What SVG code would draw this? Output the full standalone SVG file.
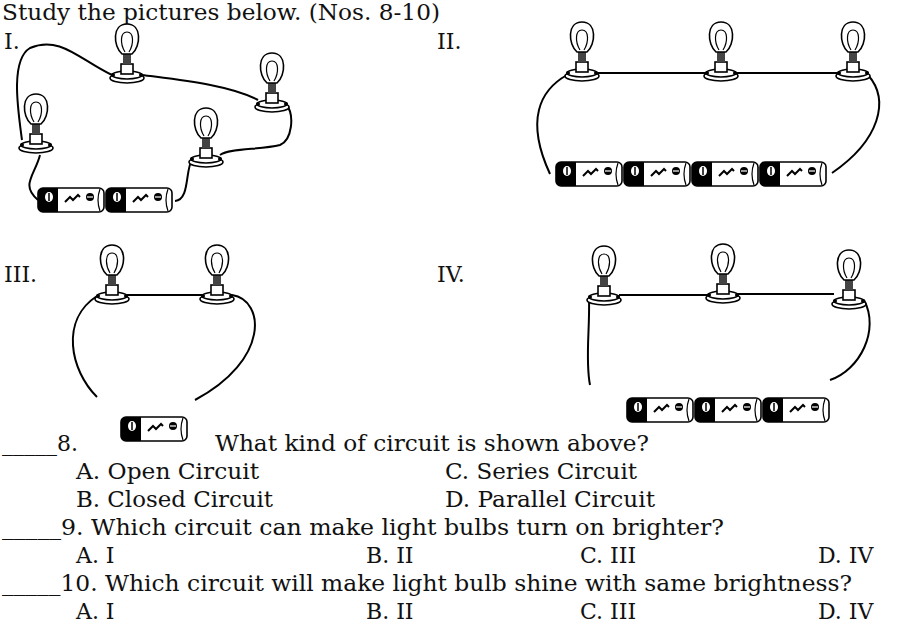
<svg xmlns="http://www.w3.org/2000/svg" width="909" height="626" viewBox="0 0 909 626">
<style>
text{font-family:"DejaVu Serif","Liberation Serif",serif;font-size:22px;fill:#111}
.w{fill:none;stroke:#000;stroke-width:2}
.o{stroke:#000;stroke-width:1.6}
</style>
<defs>
<g id="bulb">
<ellipse cx="0" cy="2" rx="17" ry="5" fill="#fff" class="o"/>
<ellipse cx="0" cy="-1" rx="15" ry="4" fill="#fff" class="o"/>
<rect x="-6" y="-12" width="12" height="10" fill="#fff" class="o"/>
<rect x="-4" y="-22" width="8" height="10" fill="#444"/>
<path d="M-5,-22 C-14,-30 -15,-52 0,-52 C15,-52 14,-30 5,-22 Z" fill="#fff" class="o"/>
<path d="M-2,-24 C-7,-32 -7,-44 0,-44 C7,-44 7,-32 2,-24" fill="none" stroke="#000" stroke-width="1.2"/>
<circle cx="-14" cy="-1" r="2" fill="#000"/><circle cx="14" cy="-1" r="2" fill="#000"/>
</g>
<g id="bat">
<rect x="0" y="-12" width="66" height="24" rx="5" fill="#fff" class="o"/>
<path d="M5,-12 H20 V12 H5 A5,5 0 0 1 0,7 V-7 A5,5 0 0 1 5,-12Z" fill="#000"/>
<ellipse cx="11" cy="-3" rx="4" ry="5" fill="#fff"/><line x1="11" y1="-7" x2="11" y2="1" stroke="#000" stroke-width="1.5"/>
<path d="M27,2 l5,-5 l3,3 l5,-5 l2,2" fill="none" stroke="#000" stroke-width="2"/>
<ellipse cx="52" cy="-3" rx="4" ry="4" fill="#000"/><line x1="49" y1="-3" x2="55" y2="-3" stroke="#fff" stroke-width="1.2"/>
<path d="M62,-11 Q58,0 62,11" fill="none" stroke="#000" stroke-width="1.2"/>
</g>
</defs>
<text x="2" y="20" textLength="438" lengthAdjust="spacingAndGlyphs">Study the pictures below. (Nos. 8-10)</text>
<text x="4" y="49">I.</text>
<text x="437" y="49">II.</text>
<text x="4" y="282">III.</text>
<text x="437" y="282">IV.</text>
<g id="connectors">
<path class="w" d="M112,75 C80,60 60,35 30,48 C10,60 18,110 22,140"/>
<path class="w" d="M142,75 C180,80 230,85 258,100"/>
<path class="w" d="M286,104 C295,115 292,140 280,145 C260,150 230,148 220,155"/>
<path class="w" d="M40,155 C35,175 20,185 38,200"/>
<path class="w" d="M192,160 C185,170 190,200 175,201"/>
<path class="w" d="M597,73 H706 M736,73 H838"/>
<path class="w" d="M567,75 C540,90 525,120 550,174"/>
<path class="w" d="M868,75 C890,100 880,140 832,173"/>
<path class="w" d="M127,295 H202"/>
<path class="w" d="M97,296 C60,320 70,370 97,397"/>
<path class="w" d="M232,295 C265,300 270,360 195,400"/>
<path class="w" d="M619,295 H708 M738,294 H834"/>
<path class="w" d="M589,298 C590,330 585,360 590,385"/>
<path class="w" d="M864,300 C880,330 860,370 830,380"/>
</g>
<g id="circuitI">
<use href="#bulb" x="127" y="76"/><use href="#bulb" x="272" y="105"/><use href="#bulb" x="36" y="146"/><use href="#bulb" x="206" y="160"/>
<use href="#bat" x="38" y="200"/><use href="#bat" x="106" y="200"/>
</g>
<g id="circuitII">
<use href="#bulb" x="582" y="74"/><use href="#bulb" x="721" y="74"/><use href="#bulb" x="853" y="74"/>
<use href="#bat" x="556" y="174"/><use href="#bat" x="624" y="174"/><use href="#bat" x="692" y="174"/><use href="#bat" x="760" y="174"/>
</g>
<g id="circuitIII">
<use href="#bulb" x="112" y="297"/><use href="#bulb" x="217" y="297"/>
<use href="#bat" x="121" y="429"/>
</g>
<g id="circuitIV">
<use href="#bulb" x="604" y="298"/><use href="#bulb" x="723" y="296"/><use href="#bulb" x="849" y="302"/>
<use href="#bat" x="627" y="410"/><use href="#bat" x="695" y="410"/><use href="#bat" x="763" y="410"/>
</g>
<text x="2" y="451">_____8.</text>
<text x="215" y="451" textLength="434" lengthAdjust="spacingAndGlyphs">What kind of circuit is shown above?</text>
<text x="76" y="479" textLength="183" lengthAdjust="spacingAndGlyphs">A. Open Circuit</text>
<text x="445" y="479" textLength="192" lengthAdjust="spacingAndGlyphs">C. Series Circuit</text>
<text x="76" y="507" textLength="197" lengthAdjust="spacingAndGlyphs">B. Closed Circuit</text>
<text x="445" y="507" textLength="210" lengthAdjust="spacingAndGlyphs">D. Parallel Circuit</text>
<text x="2" y="535" textLength="722" lengthAdjust="spacingAndGlyphs">_____9. Which circuit can  make light bulbs turn on brighter?</text>
<text x="76" y="563">A. I</text><text x="366" y="563">B. II</text><text x="580" y="563">C. III</text><text x="818" y="563">D. IV</text>
<text x="2" y="591" textLength="850" lengthAdjust="spacingAndGlyphs">_____10. Which circuit will make light bulb shine with same brightness?</text>
<text x="76" y="619">A. I</text><text x="366" y="619">B. II</text><text x="580" y="619">C. III</text><text x="818" y="619">D. IV</text>
</svg>
